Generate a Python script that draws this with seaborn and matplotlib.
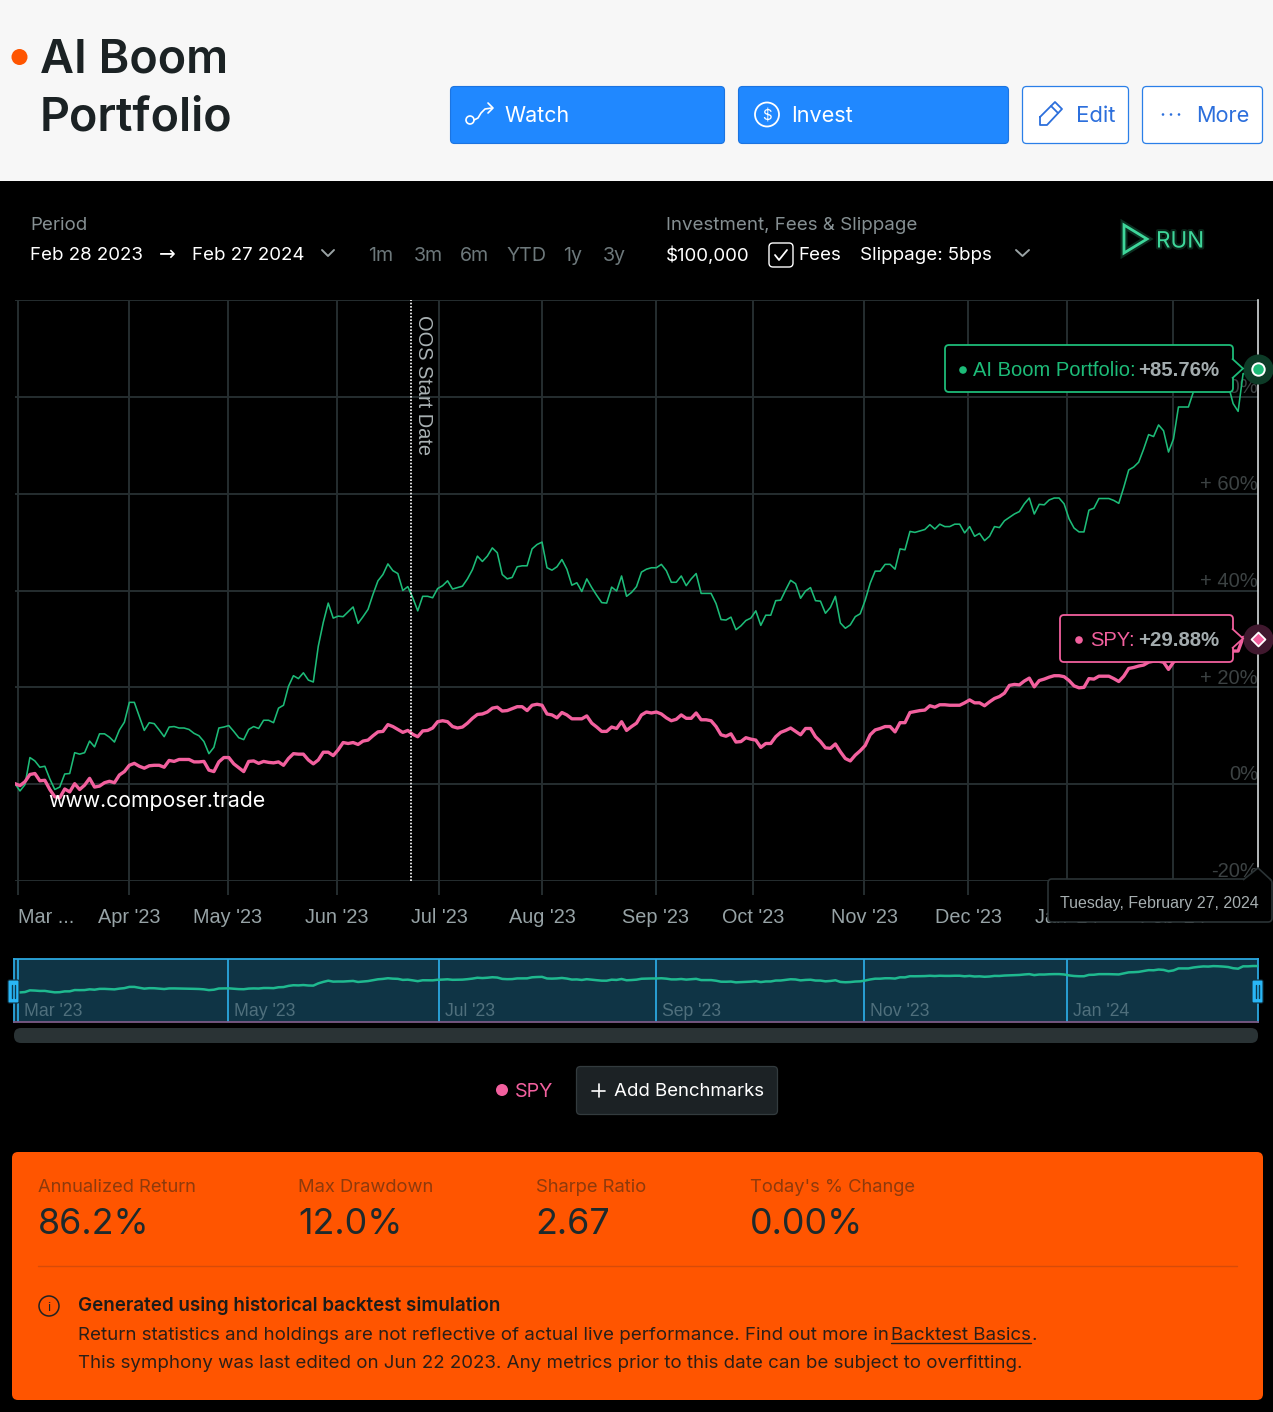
import matplotlib
matplotlib.use('Agg')
import matplotlib.pyplot as plt
from matplotlib.patches import FancyBboxPatch, Rectangle, Circle, Polygon
from matplotlib.transforms import ScaledTranslation
import matplotlib.patheffects as pe
import seaborn as sns
import pandas as pd

#--- Data (trading days since Feb 28 2023, % return)
ai_boom = [
  0.1,-1.4,-0.1,5.5,4.8,3.5,3.7,1.1,-1.1,-0.6,2.1,2.2,6.5,6.2,6.5,8.9,7.7,10.4,10.4,9.7,
  8.7,11.2,12.8,16.9,16.9,14.0,11.1,12.7,12.5,11.2,9.8,11.8,11.9,11.6,11.6,11.3,10.5,10.0,8.8,6.3,
  7.6,11.6,11.8,12.1,10.9,9.6,9.2,11.3,11.9,11.5,13.2,13.2,12.7,15.7,16.3,20.2,22.4,21.8,23.0,21.5,
  21.1,28.5,33.4,37.4,34.3,34.7,34.6,35.6,36.6,33.2,34.6,36.1,39.2,42.0,43.3,45.5,44.1,43.5,40.0,40.8,
  38.5,35.8,38.8,38.8,38.5,40.4,
  41.0,42.0,40.3,40.6,40.9,42.4,44.3,47.1,46.0,47.1,48.8,47.8,43.3,42.4,42.7,44.9,45.1,45.1,48.6,49.5,
  50.0,44.7,44.2,44.9,46.4,44.4,41.1,41.6,39.8,42.4,40.6,39.0,37.5,37.4,40.7,39.9,43.0,38.8,39.6,40.8,
  43.8,44.4,44.7,44.7,45.4,44.1,41.7,41.7,43.0,41.0,42.4,43.5,39.4,39.4,39.4,37.3,34.0,33.9,34.5,31.9,
  32.7,33.8,34.3,35.8,32.8,34.9,34.9,37.9,38.0,40.1,42.1,41.4,38.4,39.9,40.6,37.9,37.8,35.3,36.5,38.8,
  33.3,32.2,32.9,34.6,35.2,38.0,41.5,
  44.0,44.0,45.4,45.4,44.4,48.6,48.4,52.2,52.0,52.3,52.6,53.6,52.7,53.7,53.2,53.2,53.7,53.7,51.9,53.2,
  51.2,51.8,50.3,51.2,53.2,53.0,54.4,55.1,55.8,56.3,57.9,59.1,55.8,57.8,57.7,58.7,59.1,59.1,57.9,54.8,
  52.9,52.1,52.1,56.6,57.0,59.0,59.0,59.0,58.6,58.0,61.3,64.9,65.5,66.5,69.2,72.2,71.8,74.2,73.0,68.6,
  71.3,77.9,77.9,77.9,81.0,83.0,84.5,84.0,85.5,85.0,84.0,82.5,78.6,77.0,84.8,84.8,85.8,85.76]
spy = [
  0.1,-0.3,0.5,2.0,2.2,0.7,0.8,-1.1,-2.6,-2.8,-1.0,-1.6,0.1,-1.1,-0.2,1.2,-0.6,-0.4,0.3,0.6,
  0.3,1.9,2.6,3.9,4.3,3.7,3.3,3.8,3.9,3.9,3.5,4.9,4.7,5.1,5.1,5.1,4.6,4.6,4.7,2.9,
  2.6,4.6,5.5,5.5,4.2,3.4,2.6,4.7,4.8,4.3,4.7,4.5,4.4,4.6,3.9,5.3,6.3,6.2,6.2,5.0,
  4.2,5.0,6.6,6.6,5.9,7.1,8.6,8.4,8.6,8.2,8.9,9.1,10.0,10.8,10.9,12.3,11.9,11.3,10.7,11.1,
  10.3,9.8,11.0,11.1,11.6,12.9,
  13.1,12.9,11.9,11.6,11.8,12.6,13.6,14.4,14.5,14.9,15.7,15.9,15.1,15.2,15.6,16.0,16.0,15.2,16.3,16.5,
  16.3,14.5,14.3,13.7,14.8,14.3,13.5,13.5,13.5,14.1,12.6,11.8,10.9,10.9,11.8,11.5,12.9,11.1,11.9,12.6,
  14.3,14.9,14.7,14.9,14.5,13.7,13.1,13.4,14.3,13.6,13.6,14.7,13.3,13.3,13.1,11.9,10.2,9.9,10.4,8.7,
  8.8,9.6,9.3,9.1,7.6,8.4,8.4,9.8,10.7,11.1,11.6,10.9,10.2,11.5,11.5,9.8,8.8,7.5,7.4,8.3,
  6.7,5.3,4.8,6.0,6.9,8.0,10.2,
  11.2,11.5,11.9,11.9,10.8,12.7,12.7,14.8,15.0,15.2,15.3,16.2,15.9,16.4,16.4,16.3,16.3,16.3,16.8,17.4,
  16.8,16.8,16.2,17.0,17.7,18.1,18.8,20.4,20.6,20.5,21.3,21.9,20.1,21.4,21.7,22.1,22.4,22.4,22.2,21.4,
  20.3,19.9,20.0,21.8,21.7,22.3,22.3,22.3,21.8,21.2,22.3,23.9,24.1,24.4,24.6,25.2,25.4,25.4,25.2,23.7,
  25.2,25.9,26.3,26.6,26.9,27.2,27.0,26.8,26.9,27.2,26.9,26.4,27.5,27.5,30.3,30.4,30.1,29.88]

month_ticks = [0.6,22.9,42.8,64.8,85.3,106,128.9,148.4,170.8,191.7,211.6,232.9]
month_labels = ["Mar ...","Apr '23","May '23","Jun '23","Jul '23","Aug '23","Sep '23","Oct '23","Nov '23","Dec '23","Jan '24","Feb '24"]
pct_ticks = [-20,0,20,40,60,80,100]
pct_labels = ["-20%","0%","+ 20%","+ 40%","+ 60%","+ 80%",""]
nav_ticks = [0.6,42.8,85.3,128.9,170.8,211.6]
nav_labels = ["Mar '23","May '23","Jul '23","Sep '23","Nov '23","Jan '24"]
oos_day = 79.6
stat_names = ["Annualized Return","Max Drawdown","Sharpe Ratio","Today's % Change"]
stat_values = ["86.2%","12.0%","2.67","0.00%"]

df = pd.DataFrame({'day':range(len(ai_boom)),'ai':ai_boom,'spy':spy})
last = df.iloc[-1]

W,H = 1273,1412
GREEN,PINK,BLUE,GRID = '#1dbb78','#f2609e','#2088ff','#262e30'
UI,CHART = 'Inter','Liberation Sans'

fig = plt.figure(figsize=(W/100,H/100),dpi=100,facecolor='black')

def px_axes(x0,y0,x1,y1):
  return fig.add_axes([x0/W,1-y1/H,(x1-x0)/W,(y1-y0)/H])

#--- Main chart
ax = px_axes(15,300,1258,881)
ax.set_facecolor('black')
for col,c,lw in [('ai',GREEN,1.15),('spy',PINK,2.4)]:
  sns.lineplot(data=df,x='day',y=col,color=c,lw=lw,ax=ax,zorder=4)
ax.set_xlim(0,250)
ax.set_ylim(-20,100)
ax.set_xlabel('')
ax.set_ylabel('')
ax.set_xticks(month_ticks)
ax.set_xticklabels(month_labels,family=CHART,fontsize=14.3,color='#97a3a6')
for i,lab in enumerate(ax.get_xticklabels()):
  shift = -2/72 if i==0 else 1/72
  if i==0:
    lab.set_ha('left')
  lab.set_transform(lab.get_transform()+ScaledTranslation(shift,0,fig.dpi_scale_trans))
ax.set_yticks(pct_ticks)
ax.set_yticklabels([])
ax.tick_params(axis='x',length=10,width=1.4,color=GRID,pad=9.3)
ax.tick_params(axis='y',length=0)
ax.grid(True,color=GRID,lw=1.4)
ax.set_axisbelow(True)
sns.despine(ax=ax,left=True,bottom=True,right=True,top=True)
for v,s in zip(pct_ticks,pct_labels):
  ax.annotate(s,(250,v),xytext=(0,-0.2),textcoords='offset points',ha='right',va='bottom',
              family=CHART,fontsize=14.5,color='#3c4243',zorder=2)
ax.axvline(oos_day,color='white',lw=1.2,ls=(0,(1,1)),zorder=5)
ax.annotate("OOS Start Date",(oos_day,100),xytext=(9.5,-10.5),textcoords='offset points',rotation=270,
            ha='center',va='top',family=CHART,fontsize=14.4,color='#aab2b4',zorder=5)
ax.axvline(250,color='#d4d9da',lw=1.2,zorder=5,clip_on=False)
ax.scatter([250],[last.ai],s=470,color='#0d3b27',clip_on=False,zorder=6,lw=0)
ax.scatter([250],[last.ai],s=80,color=GREEN,edgecolor='white',lw=1.4,clip_on=False,zorder=7)
ax.scatter([250],[last.spy],s=470,color='#40182e',clip_on=False,zorder=6,lw=0)
ax.scatter([250],[last.spy],s=50,marker='D',color=PINK,edgecolor='white',lw=1.3,clip_on=False,zorder=7)

#--- Navigator
nav = px_axes(14,959,1258,1022)
nav.set_facecolor('#0f3445')
sns.lineplot(data=df,x='day',y='ai',color='#1fb98f',lw=1.8,ax=nav,zorder=3)
nav.set_xlim(-0.2,250)
nav.set_ylim(-99,109)
nav.set_xlabel('')
nav.set_ylabel('')
nav.set_xticks(nav_ticks)
nav.set_yticks([])
nav.set_xticklabels([])
nav.tick_params(length=0)
nav.grid(True,axis='x',color='#2ba8e0',lw=1.3)
nav.set_axisbelow(True)
for k,s in nav.spines.items():
  s.set_color('#2ba8e0')
  s.set_linewidth(1.3)
nav.spines['bottom'].set_color('#7a5a86')
for v,s in zip(nav_ticks,nav_labels):
  nav.annotate(s,(v,0),xycoords=('data','axes fraction'),xytext=(4.2,4),textcoords='offset points',
               family=CHART,fontsize=12.7,color='#4f6f7c')

#--- Page furniture, in pixel coordinates
ui = fig.add_axes([0,0,1,1],facecolor='none',zorder=10)
ui.set_xlim(0,W)
ui.set_ylim(H,0)
ui.axis('off')

def txt(x,y,s,px,color,family=UI,weight='normal',ha='left',z=5):
  return ui.text(x,y,s,fontsize=px*0.72,color=color,family=family,weight=weight,ha=ha,va='center_baseline',zorder=z)

def box(x0,y0,x1,y1,fc,ec='none',lw=1.0,r=4,z=2):
  p = FancyBboxPatch((x0+r,y0+r),x1-x0-2*r,y1-y0-2*r,boxstyle=f'round,pad={r},rounding_size={r}',fc=fc,ec=ec,lw=lw,zorder=z)
  ui.add_patch(p)

def line(xs,ys,c,lw=1.4,z=5,**kw):
  ui.plot(xs,ys,color=c,lw=lw,zorder=z,solid_capstyle='round',solid_joinstyle='round',**kw)

#--- Header
ui.add_patch(Rectangle((0,0),W,181,fc='#f7f7f7',ec='none',zorder=1))
ui.add_patch(Circle((19.5,57),8,fc='#ff5500',ec='none',zorder=3))
for y,s in [(55.5,"AI Boom"),(113.5,"Portfolio")]:
  txt(39.5,y,s,46.7,'#1b2224',weight='semibold')
box(450.5,86.5,724.5,143.5,BLUE,ec='#1c74e0',lw=0.8)
box(738.5,86.5,1008.5,143.5,BLUE,ec='#1c74e0',lw=0.8)
box(1022.5,86.5,1128.5,143.5,'white',ec='#2a7fe8',lw=0.9)
box(1142.5,86.5,1262.5,143.5,'white',ec='#2a7fe8',lw=0.9)
txt(504,114.5,"Watch",21.4,'white')
txt(791,114.5,"Invest",21.7,'white')
txt(1075.5,114.5,"Edit",22.2,'#2c6fdc')
txt(1196,114.5,"More",21.7,'#2c6fdc')
# button icons
ui.add_patch(Circle((470,120),4,fc='none',ec='white',lw=1.2,zorder=5))
line([474,478,481,485,492],[120,118,113,109,108],'white',1.2)
line([488,493,488],[103,108,113],'white',1.2)
ui.add_patch(Circle((767,114.5),12,fc='none',ec='white',lw=1.3,zorder=5))
txt(767,115,"$",15,'white',ha='center')
line([1040,1055,1062,1047,1040,1040],[117,102,109,125,125,117],'#2c6fdc',1.3)
line([1051,1058],[106,113],'#2c6fdc',1.3)
for x in (1163,1171,1179):
  ui.add_patch(Circle((x,114.5),1.3,fc='#2c6fdc',ec='none',zorder=5))

#--- Period and fee controls
txt(30.5,223,"Period",18.7,'#858f92')
txt(30.5,254,"Feb 28 2023",18.7,'white')
txt(167,252.5,"\u2192",20,'white',family='DejaVu Sans',ha='center')
txt(192,254,"Feb 27 2024",18.7,'white')
line([322,328,334],[250,256,250],'#9aa3a5',1.4)
for x,s in zip([368.5,413.5,459.5,506.5,563.5,602.5],["1m","3m","6m","YTD","1y","3y"]):
  txt(x,254,s,19.6,'#6d787b')
txt(665.5,223,"Investment, Fees & Slippage",18.7,'#858f92')
txt(665.5,254,"$100,000",18.7,'white')
box(769,243,793,267,'black',ec='white',lw=1.0,r=4)
line([775,779,787],[255,260,250],'white',1.3)
txt(798.5,254,"Fees",18.7,'white')
txt(859.5,254,"Slippage: 5bps",18.7,'white')
line([1016,1022.5,1029],[250,256,250],'#9aa3a5',1.4)
ui.add_patch(Polygon([[1124,225],[1147,239],[1124,253]],closed=True,fc='none',ec='#3ed69a',lw=2,zorder=5,
                     path_effects=[pe.withStroke(linewidth=5,foreground='#0c2f21')]))
t = txt(1156,239,"RUN",22.5,'#3ed69a')
t.set_path_effects([pe.withStroke(linewidth=3,foreground='#0a2419')])

txt(48.5,799,"www.composer.trade",21.2,'white')

#--- Series tooltips
def tip(x0,y0,x1,y1,c,zorder=6):
  r = 4
  box(x0,y0,x1,y1,'black',ec=c,lw=1.3,r=r,z=zorder)
  ym = (y0+y1)/2
  ui.add_patch(Polygon([[x1-1,ym-10],[x1+10,ym],[x1-1,ym+10]],closed=False,fc='black',ec=c,lw=1.3,zorder=zorder+0.1))

tip(945,345,1233,392,GREEN)
ui.add_patch(Circle((963,370),3.8,fc=GREEN,ec='none',zorder=8))
txt(973,369,"AI Boom Portfolio:",20.2,GREEN,family=CHART,z=8)
txt(1219,369,"+85.76%",20.4,'#a3acae',family=CHART,weight='bold',ha='right',z=8)
tip(1060,615,1233,662,PINK)
ui.add_patch(Circle((1079,640),3.8,fc=PINK,ec='none',zorder=8))
txt(1090,639,"SPY:",20.2,PINK,family=CHART,z=8)
txt(1219,639,"+29.88%",20.4,'#a3acae',family=CHART,weight='bold',ha='right',z=8)

#--- Date tooltip
box(1048,879,1272,922,'black',ec='#2b3335',lw=1.2,r=4,z=6)
ui.add_patch(Polygon([[1243,880],[1258,868],[1271,880]],closed=False,fc='black',ec='#2b3335',lw=1.2,zorder=6.1))
txt(1060,902,"Tuesday, February 27, 2024",16,'#a6aeb0',family=CHART,z=8)

#--- Navigator handles and scrollbar
for x in (13.5,1257.5):
  box(x-5.5,980,x+5.5,1003,'#29b6f6',ec='#0f3445',lw=0.8,r=1.5,z=6)
  line([x-1.5,x-1.5],[985,998],'#0b3a50',1.0,z=7)
  line([x+1.5,x+1.5],[985,998],'#0b3a50',1.0,z=7)
box(14,1028,1258,1043,'#2a3335',r=7)

#--- Benchmarks row
ui.add_patch(Circle((502,1090),6,fc=PINK,ec='none',zorder=3))
txt(514.5,1090,"SPY",19.6,PINK)
box(576.5,1066.5,777.5,1114.5,'#1c2225',ec='#333b3e',lw=0.9)
line([592,605],[1090.5,1090.5],'white',1.2)
line([598.5,598.5],[1084,1097],'white',1.2)
txt(614.5,1090,"Add Benchmarks",18.6,'white')

#--- Stats panel
box(12,1152,1263,1400,'#ff5500',r=6)
for x,n,v in zip([37.5,298,535.5,749.5],stat_names,stat_values):
  txt(x,1185,n,18.4,'#8e3a0c')
  txt(x,1220.5,v,35.8,'#1e2a2c')
line([38,1237],[1265.5,1265.5],'#d84b08',1.0)
ui.add_patch(Circle((49,1306),10,fc='none',ec='#222222',lw=1.1,zorder=5))
txt(49,1306.5,"i",13,'#222222',ha='center')
txt(78,1304,"Generated using historical backtest simulation",18.8,'#1d1c1a',weight='semibold')
txt(78,1333,"Return statistics and holdings are not reflective of actual live performance. Find out more in",18.7,'#2b1f18')
txt(891,1333,"Backtest Basics",18.7,'#2b1f18')
line([891,1031],[1343,1343],'#2b1f18',1.0)
txt(1031.5,1333,".",18.7,'#2b1f18')
txt(78,1361,"This symphony was last edited on Jun 22 2023. Any metrics prior to this date can be subject to overfitting.",18.7,'#2b1f18')

fig.savefig('out.png',dpi=100,facecolor='black')
